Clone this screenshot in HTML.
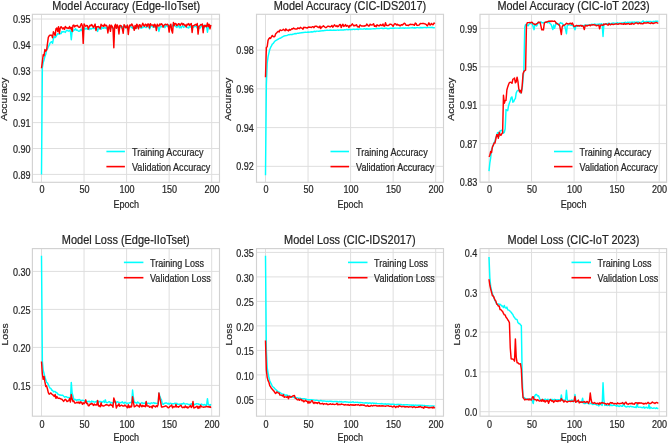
<!DOCTYPE html>
<html><head><meta charset="utf-8"><title>Model Accuracy and Loss</title>
<style>html,body{margin:0;padding:0;background:#fff}svg{display:block}text{font-family:'Liberation Sans', Arial, sans-serif}</style>
</head><body>
<svg width="668" height="444" viewBox="0 0 668 444" font-family="'Liberation Sans', Arial, sans-serif" fill="#262626">
<path d="M32.40 19.00H219.50M32.40 44.90H219.50M32.40 70.80H219.50M32.40 96.70H219.50M32.40 122.60H219.50M32.40 148.50H219.50M32.40 174.40H219.50M41.50 14.30V182.30M84.05 14.30V182.30M126.60 14.30V182.30M169.15 14.30V182.30M211.70 14.30V182.30" stroke="#dedede" stroke-width="1" fill="none"/>
<polyline points="41.50,174.40 42.35,67.69 43.20,62.51 44.05,59.92 44.90,56.44 45.76,54.29 46.61,49.34 47.46,49.02 48.31,46.79 49.16,45.17 50.01,43.14 50.86,42.15 51.71,41.64 52.56,43.35 53.41,38.83 54.27,36.64 55.12,37.49 55.97,36.62 56.82,34.96 57.67,33.75 58.52,33.91 59.37,34.32 60.22,33.60 61.07,33.63 61.92,31.51 62.77,32.03 63.63,31.49 64.48,31.97 65.33,32.38 66.18,30.78 67.03,30.15 67.88,30.85 68.73,31.19 69.58,30.20 70.43,31.20 71.28,39.72 72.14,31.21 72.99,31.28 73.84,29.96 74.69,30.00 75.54,28.66 76.39,30.28 77.24,29.96 78.09,30.79 78.94,31.28 79.80,31.13 80.65,29.31 81.50,30.51 82.35,28.64 83.20,28.33 84.05,29.58 84.90,27.99 85.75,29.03 86.60,28.25 87.45,29.22 88.31,28.23 89.16,29.63 90.01,28.33 90.86,29.10 91.71,28.76 92.56,28.09 93.41,28.42 94.26,28.58 95.11,27.92 95.96,27.83 96.81,29.50 97.67,31.43 98.52,27.84 99.37,28.91 100.22,27.99 101.07,29.29 101.92,27.11 102.77,28.38 103.62,28.22 104.47,27.20 105.32,28.21 106.18,27.60 107.03,28.85 107.88,28.44 108.73,29.05 109.58,28.10 110.43,27.10 111.28,27.70 112.13,27.15 112.98,28.60 113.83,28.46 114.69,28.10 115.54,27.26 116.39,27.40 117.24,27.66 118.09,27.13 118.94,27.70 119.79,27.56 120.64,26.50 121.49,27.94 122.34,27.31 123.20,26.17 124.05,27.31 124.90,26.80 125.75,27.79 126.60,25.77 127.45,29.02 128.30,28.13 129.15,28.04 130.00,25.95 130.86,26.91 131.71,27.37 132.56,28.14 133.41,26.84 134.26,27.01 135.11,27.62 135.96,28.22 136.81,27.90 137.66,26.85 138.51,26.76 139.37,26.92 140.22,27.07 141.07,28.31 141.92,26.88 142.77,27.70 143.62,26.84 144.47,26.49 145.32,27.36 146.17,27.61 147.02,26.02 147.88,26.50 148.73,27.24 149.58,29.06 150.43,26.75 151.28,26.20 152.13,25.79 152.98,27.17 153.83,27.12 154.68,26.95 155.53,25.93 156.38,27.48 157.24,26.63 158.09,27.24 158.94,31.43 159.79,27.69 160.64,26.17 161.49,26.82 162.34,26.59 163.19,25.99 164.04,25.49 164.89,27.67 165.75,25.56 166.60,25.88 167.45,26.52 168.30,25.18 169.15,26.11 170.00,25.26 170.85,26.73 171.70,26.96 172.55,25.34 173.41,24.62 174.26,25.82 175.11,25.63 175.96,26.70 176.81,27.38 177.66,26.53 178.51,25.20 179.36,27.82 180.21,26.77 181.06,27.89 181.91,26.33 182.77,25.74 183.62,27.40 184.47,26.76 185.32,25.42 186.17,26.53 187.02,27.44 187.87,27.51 188.72,28.06 189.57,25.90 190.42,27.10 191.28,25.71 192.13,25.86 192.98,27.06 193.83,26.97 194.68,25.96 195.53,26.46 196.38,26.38 197.23,27.88 198.08,25.91 198.94,27.30 199.79,28.40 200.64,27.12 201.49,26.33 202.34,25.03 203.19,26.96 204.04,27.72 204.89,25.05 205.74,26.58 206.59,26.92 207.44,32.21 208.30,27.52 209.15,25.60 210.00,26.97 210.85,27.19" fill="none" stroke="#00ffff" stroke-width="1.45" stroke-linejoin="round" stroke-linecap="butt"/>
<polyline points="41.50,68.27 42.35,61.86 43.20,54.73 44.05,55.67 44.90,49.52 45.76,51.12 46.61,50.08 47.46,43.60 48.31,37.29 49.16,35.83 50.01,35.11 50.86,35.21 51.71,35.12 52.56,37.65 53.41,31.81 54.27,33.25 55.12,35.58 55.97,28.82 56.82,28.08 57.67,31.44 58.52,26.61 59.37,33.26 60.22,28.23 61.07,26.64 61.92,27.70 62.77,28.86 63.63,27.85 64.48,29.48 65.33,26.39 66.18,27.65 67.03,28.27 67.88,27.77 68.73,28.56 69.58,26.51 70.43,28.80 71.28,27.46 72.14,31.44 72.99,25.39 73.84,25.05 74.69,26.88 75.54,25.75 76.39,25.89 77.24,25.21 78.09,26.40 78.94,27.27 79.80,27.35 80.65,25.36 81.50,23.67 82.35,25.79 83.20,43.35 84.05,23.96 84.90,25.47 85.75,26.17 86.60,25.45 87.45,25.79 88.31,28.98 89.16,26.97 90.01,25.21 90.86,25.80 91.71,24.57 92.56,25.98 93.41,27.37 94.26,25.73 95.11,24.09 95.96,30.52 96.81,26.63 97.67,26.70 98.52,26.57 99.37,27.45 100.22,28.66 101.07,24.29 101.92,25.86 102.77,25.50 103.62,26.54 104.47,24.22 105.32,25.78 106.18,25.28 107.03,26.23 107.88,32.91 108.73,27.18 109.58,24.97 110.43,31.34 111.28,25.18 112.13,26.39 112.98,28.09 113.83,47.75 114.69,25.81 115.54,24.36 116.39,28.31 117.24,24.92 118.09,26.55 118.94,34.02 119.79,25.52 120.64,25.57 121.49,26.11 122.34,28.74 123.20,33.24 124.05,24.73 124.90,25.79 125.75,27.78 126.60,27.28 127.45,25.10 128.30,34.54 129.15,26.69 130.00,24.91 130.86,25.84 131.71,24.00 132.56,25.12 133.41,27.55 134.26,30.27 135.11,25.43 135.96,28.58 136.81,24.14 137.66,25.52 138.51,28.84 139.37,24.84 140.22,24.96 141.07,27.23 141.92,25.50 142.77,23.30 143.62,25.21 144.47,26.28 145.32,24.21 146.17,24.64 147.02,26.65 147.88,23.99 148.73,24.22 149.58,27.95 150.43,23.73 151.28,25.07 152.13,25.10 152.98,24.84 153.83,27.09 154.68,24.26 155.53,25.40 156.38,30.52 157.24,24.28 158.09,25.54 158.94,26.06 159.79,23.92 160.64,24.88 161.49,23.75 162.34,24.65 163.19,27.16 164.04,25.23 164.89,24.54 165.75,24.29 166.60,24.76 167.45,24.24 168.30,25.34 169.15,32.11 170.00,25.57 170.85,24.14 171.70,30.47 172.55,32.99 173.41,22.47 174.26,25.46 175.11,23.38 175.96,23.62 176.81,25.66 177.66,24.97 178.51,23.78 179.36,24.00 180.21,25.55 181.06,23.79 181.91,23.23 182.77,24.89 183.62,23.75 184.47,25.27 185.32,25.06 186.17,26.91 187.02,24.19 187.87,24.85 188.72,23.54 189.57,25.33 190.42,24.57 191.28,23.60 192.13,32.47 192.98,25.71 193.83,25.61 194.68,24.99 195.53,24.38 196.38,25.28 197.23,23.51 198.08,34.11 198.94,26.34 199.79,25.92 200.64,24.59 201.49,24.96 202.34,24.11 203.19,32.73 204.04,25.47 204.89,26.58 205.74,25.56 206.59,26.71 207.44,23.00 208.30,26.63 209.15,24.34 210.00,28.88 210.85,24.82" fill="none" stroke="#ff0000" stroke-width="1.45" stroke-linejoin="round" stroke-linecap="butt"/>
<rect x="32.40" y="14.30" width="187.10" height="168.00" fill="none" stroke="#d2d2d2" stroke-width="1.15"/>
<text transform="translate(30.50,23.10) scale(0.862,1)" font-size="10.5" text-anchor="end" stroke="#262626" stroke-width="0.22">0.95</text>
<text transform="translate(30.50,49.00) scale(0.862,1)" font-size="10.5" text-anchor="end" stroke="#262626" stroke-width="0.22">0.94</text>
<text transform="translate(30.50,74.90) scale(0.862,1)" font-size="10.5" text-anchor="end" stroke="#262626" stroke-width="0.22">0.93</text>
<text transform="translate(30.50,100.80) scale(0.862,1)" font-size="10.5" text-anchor="end" stroke="#262626" stroke-width="0.22">0.92</text>
<text transform="translate(30.50,126.70) scale(0.862,1)" font-size="10.5" text-anchor="end" stroke="#262626" stroke-width="0.22">0.91</text>
<text transform="translate(30.50,152.60) scale(0.862,1)" font-size="10.5" text-anchor="end" stroke="#262626" stroke-width="0.22">0.90</text>
<text transform="translate(30.50,178.50) scale(0.862,1)" font-size="10.5" text-anchor="end" stroke="#262626" stroke-width="0.22">0.89</text>
<text transform="translate(41.90,193.40) scale(0.862,1)" font-size="10.5" text-anchor="middle" stroke="#262626" stroke-width="0.22">0</text>
<text transform="translate(84.45,193.40) scale(0.862,1)" font-size="10.5" text-anchor="middle" stroke="#262626" stroke-width="0.22">50</text>
<text transform="translate(127.00,193.40) scale(0.862,1)" font-size="10.5" text-anchor="middle" stroke="#262626" stroke-width="0.22">100</text>
<text transform="translate(169.55,193.40) scale(0.862,1)" font-size="10.5" text-anchor="middle" stroke="#262626" stroke-width="0.22">150</text>
<text transform="translate(212.10,193.40) scale(0.862,1)" font-size="10.5" text-anchor="middle" stroke="#262626" stroke-width="0.22">200</text>
<text transform="translate(126.25,207.50) scale(0.862,1)" font-size="10.5" text-anchor="middle" stroke="#262626" stroke-width="0.22">Epoch</text>
<text transform="translate(7.30,99.30) scale(0.862,1) rotate(-90)" font-size="10.5" text-anchor="middle" stroke="#262626" stroke-width="0.22">Accuracy</text>
<text transform="translate(52.25,9.70) scale(0.9069999999999999,1)" font-size="12" text-anchor="start" stroke="#262626" stroke-width="0.22">Model Accuracy (Edge-IIoTset)</text>
<path d="M106.40 151.50H124.90" stroke="#00ffff" stroke-width="1.6"/>
<text transform="translate(132.00,156.10) scale(0.862,1)" font-size="10.5" text-anchor="start" stroke="#262626" stroke-width="0.22">Training Accuracy</text>
<path d="M106.40 166.60H124.90" stroke="#ff0000" stroke-width="1.6"/>
<text transform="translate(132.00,171.20) scale(0.862,1)" font-size="10.5" text-anchor="start" stroke="#262626" stroke-width="0.22">Validation Accuracy</text>
<path d="M256.50 50.10H443.50M256.50 88.85H443.50M256.50 127.60H443.50M256.50 166.35H443.50M265.50 14.30V182.30M308.05 14.30V182.30M350.60 14.30V182.30M393.15 14.30V182.30M435.70 14.30V182.30" stroke="#dedede" stroke-width="1" fill="none"/>
<polyline points="265.50,175.15 266.35,85.06 267.20,63.21 268.05,56.82 268.90,53.15 269.75,49.48 270.61,47.43 271.46,45.92 272.31,44.18 273.16,43.52 274.01,42.30 274.86,41.34 275.71,40.56 276.56,40.04 277.41,39.51 278.26,39.26 279.12,38.60 279.97,38.18 280.82,37.95 281.67,37.37 282.52,36.79 283.37,36.36 284.22,35.95 285.07,35.75 285.92,35.62 286.77,35.46 287.63,35.15 288.48,34.71 289.33,34.69 290.18,34.50 291.03,34.37 291.88,34.67 292.73,34.28 293.58,34.15 294.43,33.73 295.29,33.50 296.14,33.70 296.99,33.42 297.84,33.18 298.69,33.18 299.54,33.04 300.39,32.92 301.24,32.60 302.09,32.80 302.94,32.41 303.80,32.49 304.65,32.31 305.50,32.11 306.35,32.38 307.20,32.32 308.05,32.05 308.90,32.20 309.75,32.08 310.60,31.91 311.45,31.79 312.31,31.93 313.16,31.71 314.01,31.49 314.86,31.29 315.71,31.72 316.56,31.14 317.41,31.12 318.26,31.34 319.11,31.32 319.96,30.95 320.81,31.00 321.67,30.83 322.52,30.64 323.37,30.75 324.22,30.59 325.07,30.46 325.92,30.36 326.77,30.19 327.62,30.16 328.47,30.35 329.32,30.39 330.18,29.96 331.03,30.19 331.88,30.19 332.73,30.39 333.58,30.06 334.43,30.27 335.28,30.18 336.13,30.28 336.98,30.12 337.83,30.00 338.69,30.20 339.54,30.08 340.39,29.92 341.24,30.06 342.09,30.03 342.94,29.93 343.79,29.98 344.64,29.63 345.49,29.85 346.35,29.54 347.20,29.48 348.05,29.77 348.90,29.55 349.75,29.59 350.60,29.66 351.45,29.50 352.30,29.45 353.15,29.27 354.00,29.19 354.86,29.48 355.71,29.34 356.56,29.16 357.41,29.02 358.26,29.55 359.11,28.94 359.96,29.13 360.81,28.83 361.66,29.10 362.51,29.13 363.37,28.95 364.22,28.75 365.07,28.89 365.92,29.22 366.77,28.72 367.62,29.04 368.47,28.92 369.32,28.93 370.17,29.02 371.02,28.91 371.88,28.85 372.73,28.78 373.58,28.68 374.43,28.70 375.28,28.86 376.13,28.64 376.98,28.45 377.83,28.43 378.68,28.54 379.53,28.45 380.38,28.39 381.24,28.30 382.09,28.23 382.94,28.53 383.79,28.50 384.64,28.22 385.49,28.19 386.34,28.17 387.19,28.76 388.04,28.41 388.89,28.86 389.75,28.23 390.60,28.32 391.45,28.30 392.30,28.31 393.15,28.07 394.00,28.30 394.85,28.08 395.70,28.14 396.55,28.15 397.40,28.11 398.26,28.15 399.11,28.32 399.96,28.02 400.81,28.01 401.66,28.12 402.51,27.97 403.36,27.93 404.21,28.25 405.06,28.05 405.91,28.08 406.77,28.14 407.62,27.93 408.47,28.09 409.32,28.01 410.17,27.89 411.02,27.86 411.87,27.84 412.72,27.53 413.57,27.94 414.42,27.80 415.28,28.01 416.13,27.73 416.98,27.61 417.83,27.59 418.68,27.86 419.53,27.78 420.38,27.53 421.23,27.72 422.08,27.54 422.94,27.82 423.79,27.44 424.64,27.48 425.49,27.55 426.34,27.73 427.19,27.61 428.04,27.55 428.89,27.51 429.74,27.55 430.59,27.55 431.44,27.47 432.30,27.27 433.15,27.78 434.00,27.66 434.85,27.67" fill="none" stroke="#00ffff" stroke-width="1.45" stroke-linejoin="round" stroke-linecap="butt"/>
<polyline points="265.50,77.31 266.35,47.50 267.20,46.72 268.05,40.30 268.90,38.71 269.75,37.70 270.61,38.38 271.46,36.74 272.31,35.47 273.16,36.47 274.01,36.79 274.86,36.27 275.71,33.74 276.56,32.90 277.41,32.06 278.26,31.27 279.12,31.99 279.97,29.91 280.82,30.28 281.67,30.44 282.52,30.06 283.37,29.35 284.22,30.00 285.07,30.68 285.92,28.81 286.77,30.10 287.63,30.24 288.48,30.86 289.33,29.39 290.18,30.20 291.03,29.63 291.88,28.69 292.73,28.95 293.58,28.00 294.43,28.52 295.29,29.04 296.14,28.88 296.99,28.94 297.84,27.84 298.69,28.28 299.54,28.56 300.39,27.37 301.24,27.93 302.09,28.32 302.94,29.14 303.80,27.34 304.65,27.42 305.50,27.48 306.35,27.81 307.20,28.06 308.05,27.44 308.90,27.00 309.75,27.27 310.60,27.25 311.45,27.49 312.31,26.75 313.16,26.80 314.01,27.62 314.86,26.26 315.71,26.20 316.56,26.14 317.41,26.93 318.26,26.94 319.11,27.74 319.96,26.04 320.81,28.52 321.67,26.96 322.52,26.88 323.37,25.79 324.22,26.50 325.07,27.30 325.92,27.68 326.77,27.05 327.62,26.30 328.47,26.32 329.32,26.52 330.18,26.92 331.03,26.48 331.88,25.41 332.73,27.21 333.58,26.20 334.43,24.80 335.28,25.70 336.13,26.56 336.98,25.56 337.83,26.77 338.69,26.08 339.54,24.71 340.39,24.39 341.24,27.51 342.09,25.39 342.94,24.28 343.79,26.43 344.64,25.70 345.49,24.59 346.35,26.31 347.20,25.46 348.05,25.89 348.90,27.49 349.75,25.49 350.60,25.93 351.45,24.93 352.30,23.89 353.15,25.10 354.00,25.99 354.86,25.26 355.71,25.45 356.56,24.71 357.41,26.83 358.26,26.57 359.11,27.32 359.96,24.98 360.81,25.50 361.66,26.02 362.51,26.07 363.37,25.92 364.22,26.20 365.07,25.65 365.92,25.78 366.77,24.11 367.62,25.02 368.47,26.00 369.32,25.78 370.17,24.22 371.02,24.86 371.88,24.98 372.73,24.60 373.58,23.83 374.43,26.26 375.28,25.84 376.13,26.69 376.98,24.73 377.83,25.48 378.68,25.73 379.53,25.79 380.38,24.51 381.24,25.23 382.09,25.55 382.94,23.98 383.79,25.98 384.64,26.16 385.49,22.78 386.34,25.35 387.19,25.49 388.04,25.64 388.89,25.11 389.75,24.30 390.60,24.31 391.45,24.48 392.30,25.19 393.15,26.23 394.00,24.67 394.85,23.58 395.70,23.96 396.55,25.03 397.40,24.17 398.26,25.19 399.11,24.89 399.96,25.91 400.81,25.10 401.66,24.69 402.51,24.94 403.36,24.11 404.21,23.13 405.06,23.61 405.91,25.01 406.77,25.37 407.62,25.29 408.47,25.56 409.32,24.67 410.17,24.32 411.02,24.52 411.87,24.49 412.72,24.51 413.57,24.75 414.42,25.27 415.28,23.11 416.13,23.69 416.98,25.38 417.83,25.37 418.68,25.08 419.53,24.52 420.38,23.44 421.23,23.64 422.08,23.58 422.94,23.55 423.79,23.53 424.64,23.84 425.49,24.07 426.34,24.56 427.19,25.96 428.04,24.54 428.89,22.85 429.74,24.88 430.59,24.94 431.44,23.49 432.30,24.30 433.15,24.77 434.00,22.99 434.85,23.79" fill="none" stroke="#ff0000" stroke-width="1.45" stroke-linejoin="round" stroke-linecap="butt"/>
<rect x="256.50" y="14.30" width="187.00" height="168.00" fill="none" stroke="#d2d2d2" stroke-width="1.15"/>
<text transform="translate(253.75,54.20) scale(0.862,1)" font-size="10.5" text-anchor="end" stroke="#262626" stroke-width="0.22">0.98</text>
<text transform="translate(253.75,92.95) scale(0.862,1)" font-size="10.5" text-anchor="end" stroke="#262626" stroke-width="0.22">0.96</text>
<text transform="translate(253.75,131.70) scale(0.862,1)" font-size="10.5" text-anchor="end" stroke="#262626" stroke-width="0.22">0.94</text>
<text transform="translate(253.75,170.45) scale(0.862,1)" font-size="10.5" text-anchor="end" stroke="#262626" stroke-width="0.22">0.92</text>
<text transform="translate(265.90,193.40) scale(0.862,1)" font-size="10.5" text-anchor="middle" stroke="#262626" stroke-width="0.22">0</text>
<text transform="translate(308.45,193.40) scale(0.862,1)" font-size="10.5" text-anchor="middle" stroke="#262626" stroke-width="0.22">50</text>
<text transform="translate(351.00,193.40) scale(0.862,1)" font-size="10.5" text-anchor="middle" stroke="#262626" stroke-width="0.22">100</text>
<text transform="translate(393.55,193.40) scale(0.862,1)" font-size="10.5" text-anchor="middle" stroke="#262626" stroke-width="0.22">150</text>
<text transform="translate(436.10,193.40) scale(0.862,1)" font-size="10.5" text-anchor="middle" stroke="#262626" stroke-width="0.22">200</text>
<text transform="translate(350.30,207.50) scale(0.862,1)" font-size="10.5" text-anchor="middle" stroke="#262626" stroke-width="0.22">Epoch</text>
<text transform="translate(230.50,99.30) scale(0.862,1) rotate(-90)" font-size="10.5" text-anchor="middle" stroke="#262626" stroke-width="0.22">Accuracy</text>
<text transform="translate(273.74,9.70) scale(0.9114805000238025,1)" font-size="12" text-anchor="start" stroke="#262626" stroke-width="0.22">Model Accuracy (CIC-IDS2017)</text>
<path d="M330.50 151.50H349.00" stroke="#00ffff" stroke-width="1.6"/>
<text transform="translate(356.10,156.10) scale(0.862,1)" font-size="10.5" text-anchor="start" stroke="#262626" stroke-width="0.22">Training Accuracy</text>
<path d="M330.50 166.60H349.00" stroke="#ff0000" stroke-width="1.6"/>
<text transform="translate(356.10,171.20) scale(0.862,1)" font-size="10.5" text-anchor="start" stroke="#262626" stroke-width="0.22">Validation Accuracy</text>
<path d="M480.00 28.40H666.60M480.00 66.80H666.60M480.00 105.20H666.60M480.00 143.60H666.60M480.00 182.00H666.60M489.00 14.30V182.30M531.55 14.30V182.30M574.10 14.30V182.30M616.65 14.30V182.30M659.20 14.30V182.30" stroke="#dedede" stroke-width="1" fill="none"/>
<polyline points="489.00,171.06 489.85,162.80 490.70,157.54 491.55,149.43 492.40,147.79 493.25,144.93 494.11,142.58 494.96,141.10 495.81,137.62 496.66,135.97 497.51,132.71 498.36,132.38 499.21,136.27 500.06,130.70 500.91,130.69 501.76,130.20 502.62,131.44 503.47,133.23 504.32,132.36 505.17,128.79 506.02,109.60 506.87,110.09 507.72,110.62 508.57,105.73 509.42,103.09 510.27,100.76 511.13,97.59 511.98,96.95 512.83,102.21 513.68,101.72 514.53,99.57 515.38,98.62 516.23,92.96 517.08,91.00 517.93,90.38 518.78,90.69 519.64,89.91 520.49,92.96 521.34,91.61 522.19,88.89 523.04,79.01 523.89,69.76 524.74,27.27 525.59,24.53 526.44,24.84 527.29,25.13 528.15,25.82 529.00,24.41 529.85,23.10 530.70,23.59 531.55,23.88 532.40,24.05 533.25,27.21 534.10,29.65 534.95,23.82 535.80,24.97 536.66,25.89 537.51,24.10 538.36,22.23 539.21,22.50 540.06,22.64 540.91,21.89 541.76,22.72 542.61,22.68 543.46,22.72 544.32,22.38 545.17,22.27 546.02,22.03 546.87,22.34 547.72,22.72 548.57,22.07 549.42,22.68 550.27,23.75 551.12,24.60 551.97,27.13 552.83,29.62 553.68,25.06 554.53,28.33 555.38,25.44 556.23,22.69 557.08,23.96 557.93,24.02 558.78,25.26 559.63,23.69 560.48,22.58 561.34,23.21 562.19,23.13 563.04,24.56 563.89,25.39 564.74,25.92 565.59,29.60 566.44,33.68 567.29,25.32 568.14,24.88 568.99,24.95 569.85,24.57 570.70,25.27 571.55,25.18 572.40,25.45 573.25,25.76 574.10,27.66 574.95,29.79 575.80,26.29 576.65,26.11 577.50,26.18 578.36,25.37 579.21,25.86 580.06,25.43 580.91,25.77 581.76,25.42 582.61,25.54 583.46,25.96 584.31,25.18 585.16,24.97 586.01,25.64 586.87,25.01 587.72,25.00 588.57,25.11 589.42,24.79 590.27,25.20 591.12,24.49 591.97,24.17 592.82,24.83 593.67,24.45 594.52,23.97 595.38,24.30 596.23,24.44 597.08,24.51 597.93,24.15 598.78,24.20 599.63,23.94 600.48,24.51 601.33,23.72 602.18,24.10 603.03,36.47 603.88,24.00 604.74,24.12 605.59,23.87 606.44,23.93 607.29,23.72 608.14,23.38 608.99,23.21 609.84,23.42 610.69,23.59 611.54,23.52 612.39,23.17 613.25,22.97 614.10,23.35 614.95,23.25 615.80,23.38 616.65,23.06 617.50,22.81 618.35,23.88 619.20,22.93 620.05,23.13 620.90,23.60 621.76,22.81 622.61,22.89 623.46,22.72 624.31,23.18 625.16,22.13 626.01,22.68 626.86,22.77 627.71,22.20 628.56,22.41 629.41,22.32 630.27,22.19 631.12,23.08 631.97,21.97 632.82,22.51 633.67,22.29 634.52,22.07 635.37,22.51 636.22,22.17 637.07,22.01 637.92,22.20 638.78,22.01 639.63,22.58 640.48,22.42 641.33,22.37 642.18,21.90 643.03,20.89 643.88,21.85 644.73,21.93 645.58,21.87 646.43,21.53 647.29,21.57 648.14,22.07 648.99,21.41 649.84,21.68 650.69,21.40 651.54,22.17 652.39,22.00 653.24,21.35 654.09,22.00 654.94,21.33 655.80,21.31 656.65,21.33 657.50,21.23 658.35,21.22" fill="none" stroke="#00ffff" stroke-width="1.45" stroke-linejoin="round" stroke-linecap="butt"/>
<polyline points="489.00,156.84 489.85,155.27 490.70,151.41 491.55,152.67 492.40,146.80 493.25,145.46 494.11,143.05 494.96,143.08 495.81,139.01 496.66,134.83 497.51,134.64 498.36,138.21 499.21,132.27 500.06,134.72 500.91,135.30 501.76,133.79 502.62,132.85 503.47,95.31 504.32,103.28 505.17,100.47 506.02,100.40 506.87,90.06 507.72,86.88 508.57,84.55 509.42,82.58 510.27,82.26 511.13,82.38 511.98,83.34 512.83,79.35 513.68,78.73 514.53,78.05 515.38,82.75 516.23,81.69 517.08,77.22 517.93,81.31 518.78,88.86 519.64,91.90 520.49,90.45 521.34,92.93 522.19,85.86 523.04,73.70 523.89,71.39 524.74,70.69 525.59,70.12 526.44,24.97 527.29,22.76 528.15,22.64 529.00,22.61 529.85,22.54 530.70,22.72 531.55,22.28 532.40,22.56 533.25,23.72 534.10,24.03 534.95,24.50 535.80,24.56 536.66,23.67 537.51,23.40 538.36,22.13 539.21,22.59 540.06,22.24 540.91,25.95 541.76,29.79 542.61,29.57 543.46,29.96 544.32,23.16 545.17,22.26 546.02,22.25 546.87,21.79 547.72,21.66 548.57,21.21 549.42,21.18 550.27,21.05 551.12,21.49 551.97,20.88 552.83,21.39 553.68,21.39 554.53,20.93 555.38,21.73 556.23,23.42 557.08,23.51 557.93,24.18 558.78,24.60 559.63,25.44 560.48,29.85 561.34,34.54 562.19,26.75 563.04,25.29 563.89,25.42 564.74,24.86 565.59,24.25 566.44,23.28 567.29,23.57 568.14,23.97 568.99,23.76 569.85,23.46 570.70,23.24 571.55,24.11 572.40,23.06 573.25,24.93 574.10,26.55 574.95,26.36 575.80,25.83 576.65,25.38 577.50,25.92 578.36,25.69 579.21,26.14 580.06,25.56 580.91,25.36 581.76,26.17 582.61,25.72 583.46,26.90 584.31,29.56 585.16,25.66 586.01,25.25 586.87,26.10 587.72,25.56 588.57,25.35 589.42,25.00 590.27,25.80 591.12,24.84 591.97,25.11 592.82,24.74 593.67,24.71 594.52,24.99 595.38,24.90 596.23,25.72 597.08,25.53 597.93,25.37 598.78,25.08 599.63,28.81 600.48,25.44 601.33,24.84 602.18,25.19 603.03,25.24 603.88,24.04 604.74,24.54 605.59,23.91 606.44,24.05 607.29,24.82 608.14,25.15 608.99,23.60 609.84,24.52 610.69,24.77 611.54,24.03 612.39,24.20 613.25,24.48 614.10,24.32 614.95,24.09 615.80,24.09 616.65,23.79 617.50,24.19 618.35,24.16 619.20,23.77 620.05,23.86 620.90,23.53 621.76,24.02 622.61,23.94 623.46,24.32 624.31,23.28 625.16,24.36 626.01,23.72 626.86,24.12 627.71,23.62 628.56,23.44 629.41,24.33 630.27,23.75 631.12,24.32 631.97,23.08 632.82,23.77 633.67,24.18 634.52,23.81 635.37,23.02 636.22,22.92 637.07,22.98 637.92,23.74 638.78,23.48 639.63,22.76 640.48,23.65 641.33,23.47 642.18,23.68 643.03,23.74 643.88,22.80 644.73,23.00 645.58,23.04 646.43,22.97 647.29,22.77 648.14,22.56 648.99,23.11 649.84,23.22 650.69,23.45 651.54,22.62 652.39,23.21 653.24,23.56 654.09,23.06 654.94,22.92 655.80,22.59 656.65,22.50 657.50,23.14 658.35,23.14" fill="none" stroke="#ff0000" stroke-width="1.45" stroke-linejoin="round" stroke-linecap="butt"/>
<rect x="480.00" y="14.30" width="186.60" height="168.00" fill="none" stroke="#d2d2d2" stroke-width="1.15"/>
<text transform="translate(477.40,32.50) scale(0.862,1)" font-size="10.5" text-anchor="end" stroke="#262626" stroke-width="0.22">0.99</text>
<text transform="translate(477.40,70.90) scale(0.862,1)" font-size="10.5" text-anchor="end" stroke="#262626" stroke-width="0.22">0.95</text>
<text transform="translate(477.40,109.30) scale(0.862,1)" font-size="10.5" text-anchor="end" stroke="#262626" stroke-width="0.22">0.91</text>
<text transform="translate(477.40,147.70) scale(0.862,1)" font-size="10.5" text-anchor="end" stroke="#262626" stroke-width="0.22">0.87</text>
<text transform="translate(477.40,186.10) scale(0.862,1)" font-size="10.5" text-anchor="end" stroke="#262626" stroke-width="0.22">0.83</text>
<text transform="translate(489.40,193.40) scale(0.862,1)" font-size="10.5" text-anchor="middle" stroke="#262626" stroke-width="0.22">0</text>
<text transform="translate(531.95,193.40) scale(0.862,1)" font-size="10.5" text-anchor="middle" stroke="#262626" stroke-width="0.22">50</text>
<text transform="translate(574.50,193.40) scale(0.862,1)" font-size="10.5" text-anchor="middle" stroke="#262626" stroke-width="0.22">100</text>
<text transform="translate(617.05,193.40) scale(0.862,1)" font-size="10.5" text-anchor="middle" stroke="#262626" stroke-width="0.22">150</text>
<text transform="translate(659.60,193.40) scale(0.862,1)" font-size="10.5" text-anchor="middle" stroke="#262626" stroke-width="0.22">200</text>
<text transform="translate(573.60,207.50) scale(0.862,1)" font-size="10.5" text-anchor="middle" stroke="#262626" stroke-width="0.22">Epoch</text>
<text transform="translate(454.10,99.30) scale(0.862,1) rotate(-90)" font-size="10.5" text-anchor="middle" stroke="#262626" stroke-width="0.22">Accuracy</text>
<text transform="translate(497.38,9.70) scale(0.9081915866534849,1)" font-size="12" text-anchor="start" stroke="#262626" stroke-width="0.22">Model Accuracy (CIC-IoT 2023)</text>
<path d="M554.00 151.50H572.50" stroke="#00ffff" stroke-width="1.6"/>
<text transform="translate(579.60,156.10) scale(0.862,1)" font-size="10.5" text-anchor="start" stroke="#262626" stroke-width="0.22">Training Accuracy</text>
<path d="M554.00 166.60H572.50" stroke="#ff0000" stroke-width="1.6"/>
<text transform="translate(579.60,171.20) scale(0.862,1)" font-size="10.5" text-anchor="start" stroke="#262626" stroke-width="0.22">Validation Accuracy</text>
<path d="M32.40 271.40H219.50M32.40 309.40H219.50M32.40 347.40H219.50M32.40 385.40H219.50M41.50 248.60V416.20M84.05 248.60V416.20M126.60 248.60V416.20M169.15 248.60V416.20M211.70 248.60V416.20" stroke="#dedede" stroke-width="1" fill="none"/>
<polyline points="41.50,255.67 42.35,361.08 43.20,370.20 44.05,373.53 44.90,377.06 45.76,379.65 46.61,382.46 47.46,382.89 48.31,384.61 49.16,386.47 50.01,388.09 50.86,388.36 51.71,390.32 52.56,390.28 53.41,391.89 54.27,391.57 55.12,391.53 55.97,392.62 56.82,392.51 57.67,393.87 58.52,394.45 59.37,394.94 60.22,394.86 61.07,395.42 61.92,395.17 62.77,395.28 63.63,396.15 64.48,397.14 65.33,396.67 66.18,396.61 67.03,397.24 67.88,397.63 68.73,397.56 69.58,397.62 70.43,399.64 71.28,382.36 72.14,393.00 72.99,396.04 73.84,399.61 74.69,399.48 75.54,399.54 76.39,400.58 77.24,399.65 78.09,400.05 78.94,399.51 79.80,399.96 80.65,400.44 81.50,400.42 82.35,400.25 83.20,400.56 84.05,400.47 84.90,401.14 85.75,401.47 86.60,401.26 87.45,401.74 88.31,401.53 89.16,401.11 90.01,402.09 90.86,401.94 91.71,401.09 92.56,401.70 93.41,401.51 94.26,402.10 95.11,402.06 95.96,401.76 96.81,400.91 97.67,401.49 98.52,402.50 99.37,401.57 100.22,401.39 101.07,401.54 101.92,402.45 102.77,401.96 103.62,401.00 104.47,402.44 105.32,399.84 106.18,402.43 107.03,402.71 107.88,402.36 108.73,401.74 109.58,401.72 110.43,402.67 111.28,402.51 112.13,402.72 112.98,403.28 113.83,402.08 114.69,401.67 115.54,401.72 116.39,402.64 117.24,401.84 118.09,401.97 118.94,402.65 119.79,402.52 120.64,402.71 121.49,402.45 122.34,401.76 123.20,403.03 124.05,403.17 124.90,402.25 125.75,402.65 126.60,403.56 127.45,403.18 128.30,403.11 129.15,403.03 130.00,402.62 130.86,402.33 131.71,402.88 132.56,389.96 133.41,397.56 134.26,402.39 135.11,402.26 135.96,403.01 136.81,403.25 137.66,401.99 138.51,402.53 139.37,403.37 140.22,403.76 141.07,403.14 141.92,402.47 142.77,403.29 143.62,403.17 144.47,403.30 145.32,402.80 146.17,402.47 147.02,403.70 147.88,403.28 148.73,403.26 149.58,403.47 150.43,403.75 151.28,402.84 152.13,403.17 152.98,402.93 153.83,402.58 154.68,403.46 155.53,403.06 156.38,403.51 157.24,403.39 158.09,403.21 158.94,393.00 159.79,396.04 160.64,398.32 161.49,399.84 162.34,403.98 163.19,404.48 164.04,403.50 164.89,403.21 165.75,403.07 166.60,403.03 167.45,403.74 168.30,403.29 169.15,404.30 170.00,403.55 170.85,403.23 171.70,403.95 172.55,403.77 173.41,403.67 174.26,403.68 175.11,403.08 175.96,404.28 176.81,403.20 177.66,404.40 178.51,404.16 179.36,404.23 180.21,403.94 181.06,404.15 181.91,403.73 182.77,403.97 183.62,402.99 184.47,403.84 185.32,404.16 186.17,403.89 187.02,403.81 187.87,404.20 188.72,404.64 189.57,404.53 190.42,404.10 191.28,403.82 192.13,404.01 192.98,404.29 193.83,404.02 194.68,404.52 195.53,404.20 196.38,403.69 197.23,403.86 198.08,403.77 198.94,404.58 199.79,404.34 200.64,404.92 201.49,404.06 202.34,404.70 203.19,405.13 204.04,404.78 204.89,404.46 205.74,405.61 206.59,405.27 207.44,398.70 208.30,404.63 209.15,404.71 210.00,405.45 210.85,404.02" fill="none" stroke="#00ffff" stroke-width="1.45" stroke-linejoin="round" stroke-linecap="butt"/>
<polyline points="41.50,361.54 42.35,374.00 43.20,379.32 44.05,376.44 44.90,381.90 45.76,386.44 46.61,385.82 47.46,388.99 48.31,392.57 49.16,394.23 50.01,393.66 50.86,392.90 51.71,393.93 52.56,394.66 53.41,395.39 54.27,396.46 55.12,394.50 55.97,398.38 56.82,396.52 57.67,397.81 58.52,398.40 59.37,398.26 60.22,398.63 61.07,399.02 61.92,399.22 62.77,400.38 63.63,401.36 64.48,400.14 65.33,399.43 66.18,400.13 67.03,401.56 67.88,400.92 68.73,400.79 69.58,398.42 70.43,402.01 71.28,394.52 72.14,399.08 72.99,401.45 73.84,400.91 74.69,403.09 75.54,403.13 76.39,402.63 77.24,402.18 78.09,402.98 78.94,401.96 79.80,403.48 80.65,401.83 81.50,402.29 82.35,404.28 83.20,402.83 84.05,403.66 84.90,402.62 85.75,399.84 86.60,403.46 87.45,403.34 88.31,405.75 89.16,405.74 90.01,404.00 90.86,404.28 91.71,403.29 92.56,404.06 93.41,405.48 94.26,404.07 95.11,405.11 95.96,404.69 96.81,404.99 97.67,400.42 98.52,405.93 99.37,405.71 100.22,406.77 101.07,402.83 101.92,405.75 102.77,405.68 103.62,406.00 104.47,405.59 105.32,405.09 106.18,404.54 107.03,405.00 107.88,404.91 108.73,405.80 109.58,405.38 110.43,404.23 111.28,405.39 112.13,405.12 112.98,407.28 113.83,397.94 114.69,400.60 115.54,402.89 116.39,408.07 117.24,405.57 118.09,405.73 118.94,403.66 119.79,406.26 120.64,405.53 121.49,405.11 122.34,405.74 123.20,406.08 124.05,406.04 124.90,404.99 125.75,405.87 126.60,406.59 127.45,407.77 128.30,404.73 129.15,407.58 130.00,405.97 130.86,407.19 131.71,406.28 132.56,396.80 133.41,402.12 134.26,406.82 135.11,406.31 135.96,405.80 136.81,404.88 137.66,405.79 138.51,406.02 139.37,407.09 140.22,403.97 141.07,405.75 141.92,406.77 142.77,405.36 143.62,406.23 144.47,405.89 145.32,406.68 146.17,401.36 147.02,406.05 147.88,405.91 148.73,405.96 149.58,407.22 150.43,406.80 151.28,406.33 152.13,408.02 152.98,405.39 153.83,406.06 154.68,406.33 155.53,407.03 156.38,405.64 157.24,406.65 158.09,404.68 158.94,393.00 159.79,398.32 160.64,402.12 161.49,406.95 162.34,406.95 163.19,406.71 164.04,406.62 164.89,406.28 165.75,405.83 166.60,406.13 167.45,407.21 168.30,407.80 169.15,407.31 170.00,406.26 170.85,405.81 171.70,404.97 172.55,407.85 173.41,406.56 174.26,406.85 175.11,407.02 175.96,404.56 176.81,406.90 177.66,406.61 178.51,407.29 179.36,406.35 180.21,405.76 181.06,405.24 181.91,407.22 182.77,407.72 183.62,407.01 184.47,407.54 185.32,405.85 186.17,407.55 187.02,406.74 187.87,408.05 188.72,407.15 189.57,406.67 190.42,405.46 191.28,407.50 192.13,406.54 192.98,401.36 193.83,408.00 194.68,407.65 195.53,407.37 196.38,406.54 197.23,406.27 198.08,408.42 198.94,406.48 199.79,407.99 200.64,405.31 201.49,406.71 202.34,406.87 203.19,407.18 204.04,407.06 204.89,407.04 205.74,406.75 206.59,406.38 207.44,406.83 208.30,406.40 209.15,407.15 210.00,406.49 210.85,407.81" fill="none" stroke="#ff0000" stroke-width="1.45" stroke-linejoin="round" stroke-linecap="butt"/>
<rect x="32.40" y="248.60" width="187.10" height="167.60" fill="none" stroke="#d2d2d2" stroke-width="1.15"/>
<text transform="translate(30.50,276.00) scale(0.862,1)" font-size="10.5" text-anchor="end" stroke="#262626" stroke-width="0.22">0.30</text>
<text transform="translate(30.50,314.00) scale(0.862,1)" font-size="10.5" text-anchor="end" stroke="#262626" stroke-width="0.22">0.25</text>
<text transform="translate(30.50,352.00) scale(0.862,1)" font-size="10.5" text-anchor="end" stroke="#262626" stroke-width="0.22">0.20</text>
<text transform="translate(30.50,390.00) scale(0.862,1)" font-size="10.5" text-anchor="end" stroke="#262626" stroke-width="0.22">0.15</text>
<text transform="translate(41.90,427.60) scale(0.862,1)" font-size="10.5" text-anchor="middle" stroke="#262626" stroke-width="0.22">0</text>
<text transform="translate(84.45,427.60) scale(0.862,1)" font-size="10.5" text-anchor="middle" stroke="#262626" stroke-width="0.22">50</text>
<text transform="translate(127.00,427.60) scale(0.862,1)" font-size="10.5" text-anchor="middle" stroke="#262626" stroke-width="0.22">100</text>
<text transform="translate(169.55,427.60) scale(0.862,1)" font-size="10.5" text-anchor="middle" stroke="#262626" stroke-width="0.22">150</text>
<text transform="translate(212.10,427.60) scale(0.862,1)" font-size="10.5" text-anchor="middle" stroke="#262626" stroke-width="0.22">200</text>
<text transform="translate(126.25,440.70) scale(0.862,1)" font-size="10.5" text-anchor="middle" stroke="#262626" stroke-width="0.22">Epoch</text>
<text transform="translate(8.00,334.40) scale(0.862,1) rotate(-90)" font-size="10.5" text-anchor="middle" stroke="#262626" stroke-width="0.22">Loss</text>
<text transform="translate(61.83,244.00) scale(0.9141395981075603,1)" font-size="12" text-anchor="start" stroke="#262626" stroke-width="0.22">Model Loss (Edge-IIoTset)</text>
<path d="M123.90 262.40H143.40" stroke="#00ffff" stroke-width="1.6"/>
<text transform="translate(150.00,267.00) scale(0.862,1)" font-size="10.5" text-anchor="start" stroke="#262626" stroke-width="0.22">Training Loss</text>
<path d="M123.90 277.70H143.40" stroke="#ff0000" stroke-width="1.6"/>
<text transform="translate(150.00,282.30) scale(0.862,1)" font-size="10.5" text-anchor="start" stroke="#262626" stroke-width="0.22">Validation Loss</text>
<path d="M256.50 252.40H443.50M256.50 276.90H443.50M256.50 301.40H443.50M256.50 325.90H443.50M256.50 350.40H443.50M256.50 374.90H443.50M256.50 399.40H443.50M265.50 248.60V416.20M308.05 248.60V416.20M350.60 248.60V416.20M393.15 248.60V416.20M435.70 248.60V416.20" stroke="#dedede" stroke-width="1" fill="none"/>
<polyline points="265.50,255.83 266.35,350.40 267.20,367.55 268.05,373.10 268.90,377.54 269.75,380.78 270.61,382.66 271.46,384.30 272.31,386.23 273.16,386.98 274.01,387.63 274.86,388.81 275.71,389.51 276.56,390.35 277.41,391.18 278.26,391.75 279.12,392.09 279.97,392.51 280.82,393.04 281.67,393.75 282.52,393.91 283.37,394.17 284.22,394.52 285.07,394.95 285.92,395.19 286.77,395.04 287.63,395.34 288.48,395.79 289.33,396.25 290.18,396.20 291.03,396.62 291.88,396.67 292.73,397.22 293.58,397.20 294.43,397.43 295.29,397.43 296.14,397.76 296.99,397.67 297.84,397.99 298.69,398.20 299.54,398.12 300.39,398.30 301.24,398.78 302.09,398.61 302.94,398.72 303.80,398.84 304.65,398.70 305.50,399.23 306.35,399.27 307.20,399.65 308.05,399.70 308.90,399.65 309.75,399.68 310.60,399.77 311.45,399.74 312.31,399.81 313.16,399.85 314.01,400.11 314.86,400.10 315.71,400.36 316.56,400.29 317.41,400.36 318.26,400.59 319.11,401.07 319.96,400.78 320.81,400.39 321.67,400.87 322.52,401.04 323.37,401.01 324.22,400.95 325.07,401.10 325.92,401.21 326.77,401.40 327.62,401.29 328.47,401.45 329.32,401.25 330.18,401.12 331.03,401.21 331.88,401.49 332.73,401.58 333.58,401.67 334.43,401.43 335.28,401.44 336.13,401.44 336.98,401.54 337.83,401.80 338.69,401.94 339.54,401.52 340.39,401.84 341.24,401.47 342.09,402.09 342.94,401.97 343.79,401.98 344.64,401.84 345.49,401.81 346.35,402.02 347.20,401.88 348.05,402.19 348.90,402.11 349.75,402.24 350.60,402.18 351.45,402.24 352.30,402.14 353.15,401.73 354.00,402.48 354.86,402.35 355.71,402.26 356.56,402.40 357.41,402.24 358.26,402.65 359.11,402.43 359.96,402.70 360.81,402.51 361.66,402.65 362.51,402.68 363.37,402.85 364.22,403.08 365.07,403.01 365.92,402.79 366.77,402.97 367.62,402.87 368.47,403.22 369.32,402.97 370.17,402.96 371.02,403.48 371.88,403.15 372.73,402.96 373.58,403.40 374.43,403.19 375.28,403.37 376.13,403.30 376.98,403.52 377.83,403.62 378.68,403.62 379.53,403.65 380.38,403.73 381.24,403.81 382.09,403.57 382.94,403.86 383.79,403.99 384.64,404.00 385.49,403.83 386.34,404.28 387.19,403.92 388.04,403.93 388.89,403.89 389.75,404.19 390.60,404.29 391.45,404.19 392.30,404.24 393.15,404.11 394.00,404.33 394.85,404.43 395.70,404.60 396.55,404.47 397.40,404.47 398.26,404.34 399.11,404.53 399.96,404.38 400.81,404.43 401.66,404.76 402.51,404.85 403.36,404.81 404.21,404.79 405.06,404.91 405.91,404.72 406.77,404.76 407.62,404.72 408.47,404.89 409.32,405.03 410.17,404.94 411.02,405.17 411.87,405.05 412.72,405.22 413.57,404.97 414.42,405.57 415.28,405.09 416.13,405.12 416.98,405.29 417.83,405.27 418.68,405.32 419.53,405.19 420.38,405.18 421.23,405.45 422.08,405.25 422.94,405.62 423.79,405.50 424.64,405.53 425.49,405.82 426.34,405.62 427.19,405.80 428.04,405.62 428.89,405.90 429.74,406.07 430.59,406.03 431.44,405.87 432.30,405.86 433.15,405.89 434.00,406.09 434.85,405.90" fill="none" stroke="#00ffff" stroke-width="1.45" stroke-linejoin="round" stroke-linecap="butt"/>
<polyline points="265.50,340.60 266.35,370.00 267.20,377.35 268.05,380.62 268.90,382.27 269.75,385.59 270.61,386.93 271.46,388.52 272.31,389.03 273.16,390.38 274.01,391.10 274.86,392.70 275.71,393.53 276.56,392.02 277.41,392.14 278.26,393.14 279.12,393.09 279.97,395.13 280.82,395.13 281.67,395.18 282.52,396.04 283.37,394.68 284.22,397.34 285.07,396.88 285.92,396.86 286.77,397.33 287.63,396.21 288.48,398.66 289.33,396.30 290.18,396.66 291.03,397.31 291.88,396.58 292.73,395.98 293.58,395.73 294.43,395.48 295.29,398.31 296.14,398.44 296.99,399.53 297.84,399.94 298.69,399.07 299.54,400.25 300.39,399.23 301.24,399.53 302.09,400.76 302.94,400.27 303.80,401.85 304.65,401.07 305.50,400.20 306.35,401.30 307.20,401.33 308.05,403.25 308.90,401.25 309.75,403.05 310.60,402.28 311.45,400.73 312.31,400.70 313.16,402.62 314.01,403.45 314.86,402.18 315.71,402.95 316.56,402.65 317.41,403.39 318.26,402.58 319.11,402.53 319.96,403.76 320.81,403.62 321.67,403.70 322.52,403.28 323.37,404.40 324.22,403.69 325.07,403.89 325.92,404.14 326.77,403.62 327.62,404.65 328.47,404.47 329.32,404.29 330.18,403.77 331.03,404.20 331.88,404.42 332.73,403.97 333.58,404.37 334.43,404.47 335.28,404.38 336.13,404.17 336.98,403.33 337.83,404.78 338.69,404.31 339.54,404.51 340.39,404.59 341.24,403.96 342.09,404.27 342.94,404.35 343.79,404.81 344.64,404.99 345.49,404.60 346.35,404.86 347.20,405.00 348.05,404.57 348.90,405.31 349.75,405.17 350.60,404.64 351.45,405.00 352.30,404.75 353.15,405.35 354.00,404.79 354.86,405.35 355.71,404.61 356.56,404.85 357.41,405.00 358.26,404.63 359.11,405.11 359.96,405.50 360.81,404.72 361.66,405.20 362.51,404.90 363.37,405.33 364.22,404.98 365.07,405.77 365.92,405.95 366.77,406.03 367.62,405.25 368.47,406.30 369.32,406.27 370.17,406.16 371.02,405.57 371.88,405.53 372.73,406.02 373.58,405.45 374.43,405.66 375.28,405.36 376.13,405.49 376.98,406.13 377.83,405.82 378.68,405.99 379.53,405.79 380.38,405.91 381.24,406.01 382.09,405.78 382.94,406.06 383.79,405.84 384.64,406.13 385.49,406.23 386.34,405.86 387.19,405.87 388.04,405.80 388.89,406.06 389.75,406.40 390.60,406.28 391.45,406.32 392.30,407.07 393.15,406.86 394.00,405.89 394.85,406.51 395.70,407.58 396.55,406.58 397.40,406.49 398.26,407.04 399.11,405.75 399.96,406.20 400.81,406.34 401.66,406.73 402.51,406.51 403.36,406.39 404.21,406.55 405.06,407.00 405.91,406.70 406.77,406.75 407.62,406.71 408.47,407.23 409.32,406.77 410.17,406.89 411.02,406.82 411.87,406.86 412.72,407.49 413.57,406.66 414.42,406.72 415.28,407.52 416.13,407.08 416.98,407.38 417.83,407.26 418.68,406.74 419.53,406.94 420.38,406.42 421.23,407.15 422.08,407.62 422.94,407.18 423.79,408.16 424.64,406.61 425.49,407.20 426.34,407.15 427.19,407.28 428.04,407.68 428.89,407.43 429.74,407.70 430.59,407.62 431.44,407.33 432.30,407.93 433.15,406.89 434.00,407.93 434.85,407.24" fill="none" stroke="#ff0000" stroke-width="1.45" stroke-linejoin="round" stroke-linecap="butt"/>
<rect x="256.50" y="248.60" width="187.00" height="167.60" fill="none" stroke="#d2d2d2" stroke-width="1.15"/>
<text transform="translate(253.75,257.00) scale(0.862,1)" font-size="10.5" text-anchor="end" stroke="#262626" stroke-width="0.22">0.35</text>
<text transform="translate(253.75,281.50) scale(0.862,1)" font-size="10.5" text-anchor="end" stroke="#262626" stroke-width="0.22">0.30</text>
<text transform="translate(253.75,306.00) scale(0.862,1)" font-size="10.5" text-anchor="end" stroke="#262626" stroke-width="0.22">0.25</text>
<text transform="translate(253.75,330.50) scale(0.862,1)" font-size="10.5" text-anchor="end" stroke="#262626" stroke-width="0.22">0.20</text>
<text transform="translate(253.75,355.00) scale(0.862,1)" font-size="10.5" text-anchor="end" stroke="#262626" stroke-width="0.22">0.15</text>
<text transform="translate(253.75,379.50) scale(0.862,1)" font-size="10.5" text-anchor="end" stroke="#262626" stroke-width="0.22">0.10</text>
<text transform="translate(253.75,404.00) scale(0.862,1)" font-size="10.5" text-anchor="end" stroke="#262626" stroke-width="0.22">0.05</text>
<text transform="translate(265.90,427.60) scale(0.862,1)" font-size="10.5" text-anchor="middle" stroke="#262626" stroke-width="0.22">0</text>
<text transform="translate(308.45,427.60) scale(0.862,1)" font-size="10.5" text-anchor="middle" stroke="#262626" stroke-width="0.22">50</text>
<text transform="translate(351.00,427.60) scale(0.862,1)" font-size="10.5" text-anchor="middle" stroke="#262626" stroke-width="0.22">100</text>
<text transform="translate(393.55,427.60) scale(0.862,1)" font-size="10.5" text-anchor="middle" stroke="#262626" stroke-width="0.22">150</text>
<text transform="translate(436.10,427.60) scale(0.862,1)" font-size="10.5" text-anchor="middle" stroke="#262626" stroke-width="0.22">200</text>
<text transform="translate(350.30,440.70) scale(0.862,1)" font-size="10.5" text-anchor="middle" stroke="#262626" stroke-width="0.22">Epoch</text>
<text transform="translate(231.80,334.40) scale(0.862,1) rotate(-90)" font-size="10.5" text-anchor="middle" stroke="#262626" stroke-width="0.22">Loss</text>
<text transform="translate(284.07,244.00) scale(0.9139418382421528,1)" font-size="12" text-anchor="start" stroke="#262626" stroke-width="0.22">Model Loss (CIC-IDS2017)</text>
<path d="M348.00 262.40H367.50" stroke="#00ffff" stroke-width="1.6"/>
<text transform="translate(374.10,267.00) scale(0.862,1)" font-size="10.5" text-anchor="start" stroke="#262626" stroke-width="0.22">Training Loss</text>
<path d="M348.00 277.70H367.50" stroke="#ff0000" stroke-width="1.6"/>
<text transform="translate(374.10,282.30) scale(0.862,1)" font-size="10.5" text-anchor="start" stroke="#262626" stroke-width="0.22">Validation Loss</text>
<path d="M480.00 252.50H666.60M480.00 292.30H666.60M480.00 332.10H666.60M480.00 371.90H666.60M480.00 411.70H666.60M489.00 248.60V416.20M531.55 248.60V416.20M574.10 248.60V416.20M616.65 248.60V416.20M659.20 248.60V416.20" stroke="#dedede" stroke-width="1" fill="none"/>
<polyline points="489.00,256.97 489.85,277.86 490.70,286.58 491.55,290.45 492.40,293.54 493.25,295.86 494.11,298.34 494.96,300.43 495.81,302.16 496.66,303.77 497.51,304.26 498.36,303.93 499.21,304.52 500.06,304.25 500.91,305.03 501.76,306.02 502.62,306.04 503.47,307.53 504.32,305.45 505.17,307.65 506.02,308.13 506.87,307.13 507.72,309.79 508.57,310.13 509.42,310.40 510.27,311.43 511.13,312.28 511.98,313.49 512.83,314.54 513.68,316.45 514.53,317.42 515.38,319.00 516.23,319.21 517.08,319.61 517.93,322.58 518.78,323.46 519.64,323.57 520.49,324.86 521.34,325.47 522.19,375.88 523.04,397.43 523.89,397.37 524.74,398.06 525.59,398.36 526.44,398.83 527.29,398.92 528.15,399.48 529.00,399.37 529.85,398.83 530.70,399.41 531.55,399.13 532.40,401.36 533.25,403.51 534.10,398.23 534.95,395.58 535.80,394.59 536.66,394.55 537.51,395.99 538.36,395.66 539.21,397.39 540.06,399.67 540.91,400.17 541.76,399.50 542.61,399.41 543.46,399.73 544.32,399.84 545.17,399.11 546.02,399.63 546.87,399.80 547.72,399.23 548.57,399.67 549.42,400.03 550.27,399.31 551.12,399.93 551.97,399.35 552.83,400.13 553.68,399.69 554.53,399.29 555.38,399.69 556.23,399.70 557.08,399.75 557.93,399.59 558.78,399.98 559.63,399.84 560.48,400.19 561.34,394.98 562.19,400.56 563.04,399.78 563.89,400.67 564.74,399.98 565.59,399.64 566.44,390.21 567.29,399.49 568.14,400.81 568.99,400.77 569.85,400.26 570.70,400.96 571.55,400.01 572.40,400.27 573.25,401.82 574.10,401.23 574.95,394.59 575.80,400.68 576.65,401.54 577.50,401.54 578.36,401.07 579.21,401.99 580.06,401.54 580.91,402.48 581.76,401.52 582.61,398.17 583.46,402.86 584.31,403.59 585.16,403.43 586.01,402.34 586.87,403.22 587.72,402.62 588.57,403.90 589.42,403.88 590.27,403.65 591.12,403.25 591.97,404.01 592.82,404.56 593.67,404.09 594.52,404.35 595.38,404.31 596.23,404.69 597.08,404.95 597.93,404.71 598.78,405.94 599.63,404.70 600.48,404.30 601.33,404.68 602.18,405.44 603.03,382.77 603.88,399.76 604.74,405.40 605.59,405.32 606.44,405.17 607.29,405.61 608.14,405.37 608.99,404.73 609.84,405.73 610.69,404.65 611.54,405.43 612.39,405.51 613.25,405.27 614.10,405.34 614.95,405.33 615.80,405.62 616.65,406.22 617.50,405.22 618.35,406.10 619.20,406.47 620.05,405.70 620.90,405.86 621.76,406.22 622.61,406.22 623.46,403.34 624.31,405.43 625.16,406.42 626.01,407.03 626.86,406.74 627.71,406.28 628.56,406.66 629.41,406.92 630.27,406.31 631.12,406.35 631.97,406.84 632.82,406.66 633.67,407.13 634.52,407.17 635.37,407.08 636.22,407.61 637.07,403.34 637.92,407.10 638.78,407.34 639.63,407.10 640.48,407.13 641.33,407.59 642.18,407.57 643.03,407.71 643.88,406.74 644.73,408.22 645.58,407.51 646.43,407.12 647.29,408.07 648.14,408.06 648.99,404.54 649.84,408.55 650.69,407.20 651.54,407.92 652.39,408.37 653.24,408.20 654.09,407.87 654.94,408.15 655.80,408.47 656.65,407.85 657.50,408.56 658.35,408.37" fill="none" stroke="#00ffff" stroke-width="1.45" stroke-linejoin="round" stroke-linecap="butt"/>
<polyline points="489.00,279.23 489.85,285.26 490.70,288.97 491.55,292.19 492.40,295.73 493.25,295.88 494.11,297.87 494.96,299.96 495.81,300.90 496.66,303.84 497.51,304.61 498.36,306.12 499.21,305.98 500.06,309.58 500.91,309.62 501.76,310.68 502.62,311.41 503.47,313.46 504.32,314.83 505.17,314.95 506.02,317.21 506.87,318.19 507.72,319.74 508.57,320.86 509.42,322.75 510.27,348.02 511.13,358.77 511.98,359.11 512.83,358.95 513.68,359.68 514.53,361.23 515.38,338.90 516.23,357.27 517.08,362.69 517.93,362.75 518.78,363.87 519.64,363.97 520.49,363.73 521.34,369.25 522.19,387.60 523.04,397.53 523.89,398.58 524.74,400.00 525.59,399.23 526.44,399.61 527.29,399.51 528.15,399.04 529.00,399.96 529.85,399.06 530.70,399.86 531.55,399.91 532.40,396.94 533.25,396.71 534.10,399.59 534.95,399.60 535.80,399.59 536.66,400.69 537.51,399.68 538.36,400.22 539.21,401.11 540.06,401.09 540.91,400.10 541.76,401.30 542.61,399.42 543.46,401.23 544.32,400.54 545.17,402.09 546.02,400.73 546.87,401.00 547.72,400.46 548.57,403.34 549.42,400.95 550.27,399.58 551.12,400.37 551.97,401.23 552.83,400.64 553.68,402.46 554.53,401.20 555.38,400.20 556.23,401.22 557.08,400.85 557.93,401.59 558.78,400.53 559.63,400.92 560.48,401.01 561.34,398.57 562.19,400.13 563.04,400.62 563.89,402.05 564.74,400.88 565.59,400.97 566.44,401.77 567.29,402.05 568.14,401.40 568.99,401.36 569.85,401.25 570.70,401.64 571.55,401.16 572.40,401.10 573.25,401.45 574.10,401.09 574.95,396.58 575.80,402.31 576.65,401.51 577.50,401.08 578.36,400.13 579.21,402.89 580.06,402.05 580.91,402.32 581.76,401.75 582.61,402.46 583.46,401.97 584.31,401.55 585.16,402.59 586.01,402.27 586.87,401.40 587.72,401.87 588.57,403.33 589.42,401.34 590.27,392.99 591.12,399.76 591.97,402.93 592.82,403.01 593.67,403.21 594.52,402.55 595.38,403.39 596.23,403.73 597.08,403.41 597.93,403.16 598.78,404.34 599.63,402.85 600.48,403.70 601.33,402.90 602.18,402.54 603.03,403.14 603.88,403.03 604.74,403.58 605.59,403.71 606.44,404.40 607.29,403.46 608.14,403.66 608.99,404.68 609.84,403.22 610.69,402.53 611.54,403.16 612.39,402.74 613.25,403.55 614.10,403.97 614.95,403.38 615.80,403.61 616.65,404.06 617.50,402.86 618.35,403.35 619.20,403.81 620.05,403.34 620.90,403.54 621.76,403.12 622.61,402.58 623.46,403.82 624.31,404.15 625.16,402.73 626.01,402.17 626.86,403.85 627.71,404.02 628.56,404.19 629.41,403.53 630.27,403.47 631.12,403.69 631.97,403.08 632.82,404.01 633.67,403.89 634.52,404.23 635.37,402.73 636.22,402.88 637.07,402.72 637.92,403.89 638.78,402.65 639.63,403.20 640.48,402.94 641.33,402.99 642.18,403.46 643.03,403.35 643.88,404.08 644.73,403.50 645.58,403.30 646.43,403.79 647.29,403.06 648.14,402.38 648.99,403.33 649.84,403.57 650.69,403.48 651.54,402.87 652.39,401.98 653.24,402.83 654.09,402.86 654.94,403.56 655.80,402.65 656.65,402.46 657.50,403.01 658.35,402.77" fill="none" stroke="#ff0000" stroke-width="1.45" stroke-linejoin="round" stroke-linecap="butt"/>
<rect x="480.00" y="248.60" width="186.60" height="167.60" fill="none" stroke="#d2d2d2" stroke-width="1.15"/>
<text transform="translate(477.40,257.10) scale(0.862,1)" font-size="10.5" text-anchor="end" stroke="#262626" stroke-width="0.22">0.4</text>
<text transform="translate(477.40,296.90) scale(0.862,1)" font-size="10.5" text-anchor="end" stroke="#262626" stroke-width="0.22">0.3</text>
<text transform="translate(477.40,336.70) scale(0.862,1)" font-size="10.5" text-anchor="end" stroke="#262626" stroke-width="0.22">0.2</text>
<text transform="translate(477.40,376.50) scale(0.862,1)" font-size="10.5" text-anchor="end" stroke="#262626" stroke-width="0.22">0.1</text>
<text transform="translate(477.40,416.30) scale(0.862,1)" font-size="10.5" text-anchor="end" stroke="#262626" stroke-width="0.22">0.0</text>
<text transform="translate(489.40,427.60) scale(0.862,1)" font-size="10.5" text-anchor="middle" stroke="#262626" stroke-width="0.22">0</text>
<text transform="translate(531.95,427.60) scale(0.862,1)" font-size="10.5" text-anchor="middle" stroke="#262626" stroke-width="0.22">50</text>
<text transform="translate(574.50,427.60) scale(0.862,1)" font-size="10.5" text-anchor="middle" stroke="#262626" stroke-width="0.22">100</text>
<text transform="translate(617.05,427.60) scale(0.862,1)" font-size="10.5" text-anchor="middle" stroke="#262626" stroke-width="0.22">150</text>
<text transform="translate(659.60,427.60) scale(0.862,1)" font-size="10.5" text-anchor="middle" stroke="#262626" stroke-width="0.22">200</text>
<text transform="translate(573.60,440.70) scale(0.862,1)" font-size="10.5" text-anchor="middle" stroke="#262626" stroke-width="0.22">Epoch</text>
<text transform="translate(460.20,334.40) scale(0.862,1) rotate(-90)" font-size="10.5" text-anchor="middle" stroke="#262626" stroke-width="0.22">Loss</text>
<text transform="translate(507.57,244.00) scale(0.9139201533246475,1)" font-size="12" text-anchor="start" stroke="#262626" stroke-width="0.22">Model Loss (CIC-IoT 2023)</text>
<path d="M571.50 262.40H591.00" stroke="#00ffff" stroke-width="1.6"/>
<text transform="translate(597.60,267.00) scale(0.862,1)" font-size="10.5" text-anchor="start" stroke="#262626" stroke-width="0.22">Training Loss</text>
<path d="M571.50 277.70H591.00" stroke="#ff0000" stroke-width="1.6"/>
<text transform="translate(597.60,282.30) scale(0.862,1)" font-size="10.5" text-anchor="start" stroke="#262626" stroke-width="0.22">Validation Loss</text>
</svg>
</body></html>
